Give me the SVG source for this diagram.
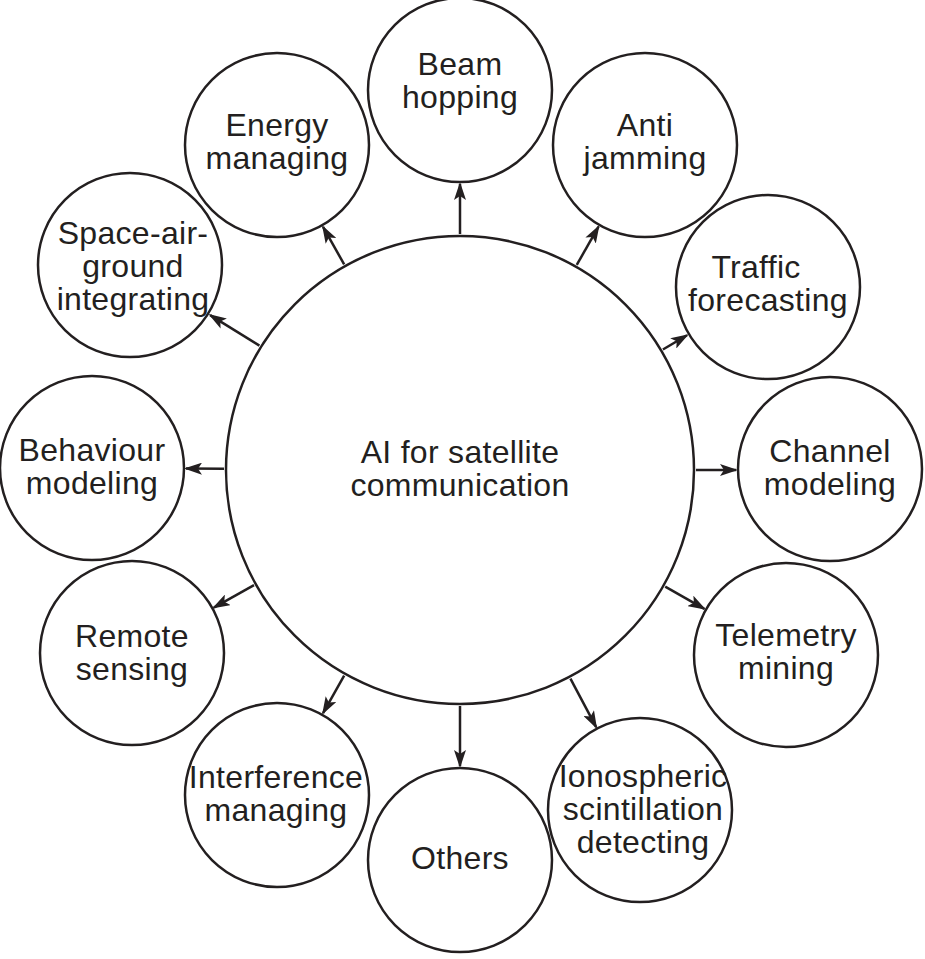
<svg xmlns="http://www.w3.org/2000/svg" width="925" height="959" viewBox="0 0 925 959">
<defs>
<style>
circle{fill:#fff;stroke:#231f20;stroke-width:2.5}
text{font-family:"Liberation Sans",Arial,sans-serif;font-size:32px;fill:#231f20;text-anchor:middle;letter-spacing:0.3px}
.c line{stroke:#231f20;stroke-width:2.5;marker-end:url(#a)}
</style>
<marker id="a" viewBox="0 0 18 12" refX="16" refY="6" markerWidth="18" markerHeight="12" orient="auto" markerUnits="userSpaceOnUse">
<path d="M0,0 L18,6 L0,12 L4,6 Z" fill="#231f20"/>
</marker>
</defs>
<rect width="925" height="959" fill="#fff"/>
<g class="c" id="connectors">
<g transform="translate(460,470)">
<line x1="236" y1="0" x2="286" y2="0" transform="rotate(-90)"/>
<line x1="236" y1="0" x2="280" y2="0" transform="rotate(-60.35)"/>
<line x1="236" y1="0" x2="264" y2="0" transform="rotate(-30.7)"/>
<line x1="236" y1="0" x2="276" y2="0" transform="rotate(0)"/>
<line x1="236" y1="0" x2="281" y2="0" transform="rotate(29.6)"/>
<line x1="236" y1="0" x2="291" y2="0" transform="rotate(62.1)"/>
<line x1="236" y1="0" x2="296" y2="0" transform="rotate(90)"/>
<line x1="236" y1="0" x2="279" y2="0" transform="rotate(119.4)"/>
<line x1="236" y1="0" x2="282" y2="0" transform="rotate(150.8)"/>
<line x1="236" y1="0" x2="274" y2="0" transform="rotate(180.3)"/>
<line x1="236" y1="0" x2="294" y2="0" transform="rotate(-148.2)"/>
<line x1="236" y1="0" x2="279" y2="0" transform="rotate(-119.4)"/>
</g>
</g>
<g id="center"><circle cx="460" cy="470" r="234"/><text x="460" y="463">AI for satellite</text><text x="460" y="496">communication</text></g>
<g id="beam"><circle cx="460" cy="90" r="92"/><text x="460" y="75">Beam</text><text x="460" y="108">hopping</text></g>
<g id="anti"><circle cx="645" cy="145" r="92"/><text x="645" y="136">Anti</text><text x="645" y="169">jamming</text></g>
<g id="traffic"><circle cx="768" cy="287" r="92"/><text x="756" y="278">Traffic</text><text x="768" y="311">forecasting</text></g>
<g id="channel"><circle cx="830" cy="469" r="92"/><text x="830" y="462">Channel</text><text x="830" y="495">modeling</text></g>
<g id="telemetry"><circle cx="786" cy="655" r="92"/><text x="786" y="646">Telemetry</text><text x="786" y="679">mining</text></g>
<g id="iono"><circle cx="640" cy="810" r="92"/><text x="643" y="787">Ionospheric</text><text x="643" y="820">scintillation</text><text x="643" y="853">detecting</text></g>
<g id="others"><circle cx="460" cy="860" r="92"/><text x="460" y="869">Others</text></g>
<g id="interference"><circle cx="277" cy="795" r="92"/><text x="276" y="788">Interference</text><text x="276" y="821">managing</text></g>
<g id="remote"><circle cx="132" cy="653" r="92"/><text x="132" y="647">Remote</text><text x="132" y="680">sensing</text></g>
<g id="behaviour"><circle cx="92" cy="468" r="92"/><text x="92" y="461">Behaviour</text><text x="92" y="494">modeling</text></g>
<g id="space"><circle cx="130" cy="265" r="92"/><text x="133" y="244">Space-air-</text><text x="133" y="277">ground</text><text x="133" y="310">integrating</text></g>
<g id="energy"><circle cx="277" cy="145" r="92"/><text x="277" y="136">Energy</text><text x="277" y="169">managing</text></g>
</svg>
